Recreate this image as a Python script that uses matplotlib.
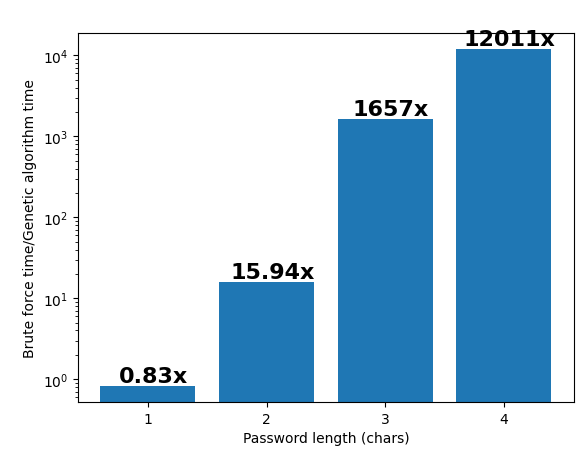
import matplotlib
matplotlib.use("Agg")
import matplotlib.pyplot as plt

lengths = [1, 2, 3, 4]
speedups = [0.83, 15.94, 1657, 12011]
labels = ["0.83x", "15.94x", "1657x", "12011x"]

fig = plt.figure(figsize=(5.85, 4.52), dpi=100)
ax = fig.add_axes([0.133, 0.108, 0.848, 0.817])
ax.bar(lengths, speedups, color="#1f77b4")
ax.set_yscale("log")
ax.set_ylim(0.52, 1.9e4)
for x, v, s in zip(lengths, speedups, labels):
    ax.text(x + 0.05, v, s, ha="center", va="bottom", fontsize=16, fontweight="bold")
ax.set_xticks(lengths)
ax.set_xlabel("Password length (chars)")
ax.set_ylabel("Brute force time/Genetic algorithm time")
fig.savefig("out.png", dpi=100)
